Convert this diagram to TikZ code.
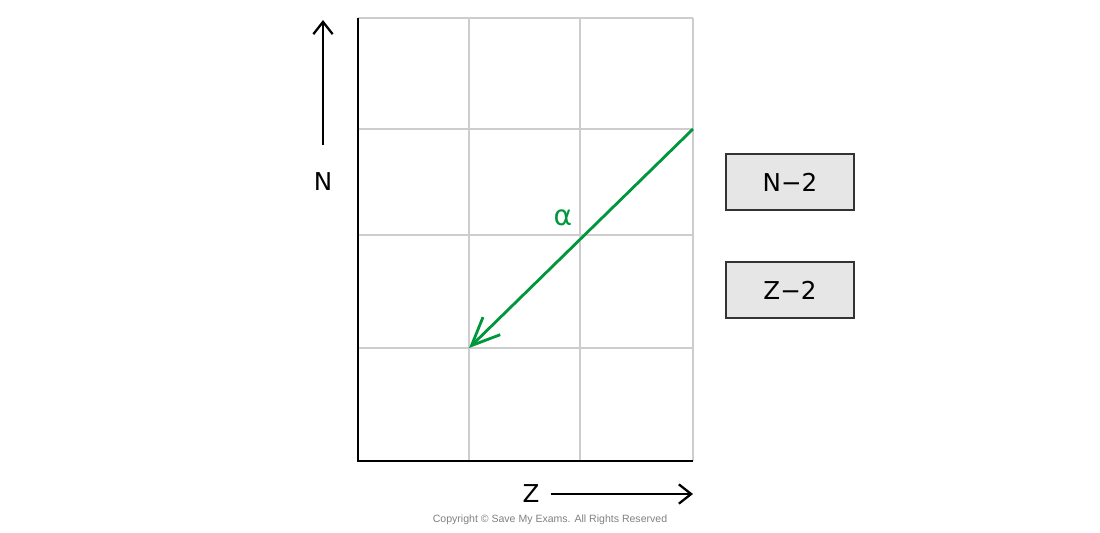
\documentclass[tikz,border=0pt]{standalone}
\usepackage{fontspec}
\setmainfont{DejaVu Sans}
\newfontfamily\smallfont{Liberation Sans}
\usetikzlibrary{arrows.meta}
\definecolor{gridgrey}{RGB}{205,205,205}
\definecolor{arrowgreen}{RGB}{0,150,60}
\definecolor{boxgrey}{RGB}{230,230,230}

\begin{document}
\begin{tikzpicture} [x=0.02cm, y=-0.02cm,
	axislabel/.style={font=\fontsize{14}{16}\selectfont},
	change/.style={draw=black!80, fill=boxgrey, line width=0.9pt, minimum width=2.56cm, minimum height=1.12cm, font=\fontsize{14}{16}\selectfont},
	axis/.style={line width=1.3pt, -{Straight Barb[length=7pt, width=11pt]}}]
\useasboundingbox (0,0) rectangle (1100,532);

% grid and axes
\foreach \x in {469,580,693} \draw[gridgrey, line width=0.6pt] (\x,18) -- (\x,461);
\foreach \y in {18,129,235,348} \draw[gridgrey, line width=0.6pt] (358,\y) -- (693,\y);
\draw[line width=1.6pt] (358,18) -- (358,461) -- (693,461);

\path (323,182) node[axislabel] (n) {N}
	  (531,494) node[axislabel] (z) {Z};
\coordinate (ntail) at (323,145);
\coordinate (ntip) at (323,20);
\coordinate (ztail) at (551,494);
\coordinate (ztip) at (693,494);

\draw[axis] (ntail) -- (ntip);
\draw[axis] (ztail) -- (ztip);

% alpha decay
\coordinate (start) at (693,129);
\coordinate (stop) at (469,348);
\draw[arrowgreen, line width=1.6pt, -{Straight Barb[length=16pt, width=14pt]}] (start) -- (stop);
\path (563,218) node[arrowgreen, font=\fontsize{16}{18}\selectfont] (alpha) {α};

\path (790,182) node[change] (dn) {N−2}
	  (790,290) node[change] (dz) {Z−2};

\path (550,520) node[gray, font=\smallfont\fontsize{6}{8}\selectfont] (copy) {Copyright © Save My Exams. All Rights Reserved};
\end{tikzpicture}
\end{document}
